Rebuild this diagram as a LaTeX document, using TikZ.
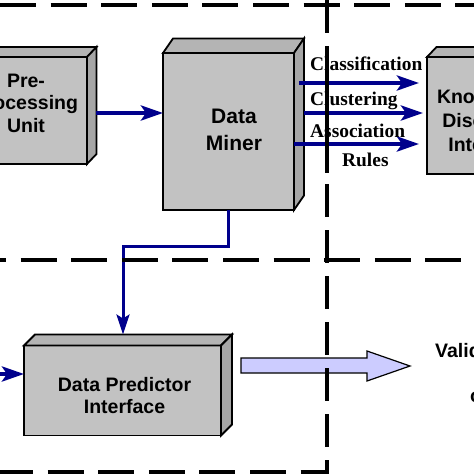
\documentclass[tikz,border=0pt]{standalone}
\usepackage{fontspec}
\setmainfont{Liberation Serif}
\setsansfont{Liberation Sans}
\usetikzlibrary{arrows.meta,calc}
\definecolor{navyc}{RGB}{0,0,140}
\definecolor{frontc}{RGB}{194,194,194}
\definecolor{topc}{RGB}{180,180,180}
\definecolor{sidec}{RGB}{166,166,166}
\definecolor{lavc}{RGB}{204,204,255}
\newcommand\cubfaces[3]{%
  \draw[cubeline,fill=topc] (#1.north west) -- ++(#2,-#3) -- ($(#1.north east)+(#2,-#3)$) -- (#1.north east) -- cycle;
  \draw[cubeline,fill=sidec] (#1.north east) -- ++(#2,-#3) -- ($(#1.south east)+(#2,-#3)$) -- (#1.south east) -- cycle;
}
\newcommand\cubtext[3]{\raisebox{#1}[\height][\depth]{\begin{tabular}{@{\hspace{#2}}c@{}}#3\end{tabular}}}
\begin{document}
\begin{tikzpicture}[x=1pt,y=-1pt,
  cubeline/.style={draw=black,line width=1.8pt,line join=miter},
  cubebox/.style={cubeline,fill=frontc,inner sep=0pt,outer sep=0pt,align=center,
    font=\sffamily\bfseries\fontsize{19.5}{22.5}\selectfont},
  navyarrow/.style={draw=navyc,line width=4pt,-{Stealth[length=22pt,width=15pt,inset=5pt]}},
  thinarrow/.style={draw=navyc,line width=3pt,-{Stealth[length=20pt,width=13pt,inset=4pt]}},
  lbl/.style={anchor=base west,inner sep=0pt,font=\rmfamily\bfseries\fontsize{19.4}{22}\selectfont},
  sanstxt/.style={anchor=base west,inner sep=0pt,font=\sffamily\bfseries\fontsize{19.5}{22.5}\selectfont},
  dashline/.style={draw=black,line width=4pt},
  bigarrow/.style={draw=black,line width=1.2pt,fill=lavc,line join=miter}
]
\useasboundingbox (0,0) rectangle (474,474);

% boxes
\node[cubebox,minimum width=122pt,minimum height=107pt] (pre) at (26,110.5)
  {\cubtext{5.5pt}{0pt}{Pre-\\processing\\Unit}};
\cubfaces{pre}{9.5}{10}

\node[cubebox,minimum width=131pt,minimum height=157pt,font=\sffamily\bfseries\fontsize{21}{27}\selectfont] (miner) at (228.5,131.5)
  {\cubtext{0pt}{11pt}{Data\\Miner}};
\cubfaces{miner}{10}{14.5}

\node[cubebox,minimum width=124pt,minimum height=117pt,font=\sffamily\bfseries\fontsize{19.5}{24}\selectfont] (know) at (489,115.5)
  {\cubtext{-7.5pt}{0pt}{Knowledge\\Discovery\\Interface}};
\cubfaces{know}{9.5}{10}

\node[cubebox,minimum width=197pt,minimum height=90pt] (pred) at (122.5,390.5)
  {\cubtext{-7.5pt}{4pt}{Data Predictor\\Interface}};
\cubfaces{pred}{11}{11}

% connectors
\draw[navyarrow] ([xshift=9pt,yshift=-2.5pt]pre.east) -- ([yshift=-2.5pt]pre.east -| miner.west);

\path ([xshift=5pt,yshift=48.5pt]miner.east) coordinate (a1s);
\path ([xshift=10pt,yshift=18.5pt]miner.east) coordinate (a2s);
\path ([xshift=0pt,yshift=-12.5pt]miner.east) coordinate (a3s);
\draw[navyarrow,shorten >=8pt] (a1s) -- (a1s -| know.west);
\draw[navyarrow,shorten >=4pt] (a2s) -- (a2s -| know.west);
\draw[navyarrow,shorten >=8pt] (a3s) -- (a3s -| know.west);

\node[lbl] (lcl) at (310,70) {Classification};
\node[lbl] (lcu) at (310,105) {Clustering};
\node[lbl] (las) at (310,137) {Association};
\node[lbl] (lru) at (342,166) {Rules};

\coordinate (bend) at (123,246);
\draw[thinarrow] (miner.south) |- (bend) -- ([yshift=11pt]bend |- pred.north);

\coordinate (lin) at (-6,374);
\draw[navyarrow] (lin) -- (lin -| pred.west);

% big block arrow
\draw[bigarrow] (241,358) -- (367,358) -- (367,351) -- (410,366) -- (367,381) -- (367,373) -- (241,373) -- cycle;

\node[sanstxt] (val1) at (435,357) {Validation};
\node[sanstxt] (val2) at (470,402) {of};

% dashed separators
\draw[dashline,dash pattern=on 36pt off 14.6pt] (0,5) -- (474,5);
\draw[dashline,dash pattern=on 36pt off 14.6pt,dash phase=30pt] (0,260) -- (474,260);
\draw[dashline,dash pattern=on 36pt off 14.6pt,dash phase=3pt] (0,472) -- (327,472);
\draw[dashline,dash pattern=on 33pt off 13pt] (327,0) -- (327,474);
\draw[dashline] (327,47) -- (327,173);
\end{tikzpicture}
\end{document}
